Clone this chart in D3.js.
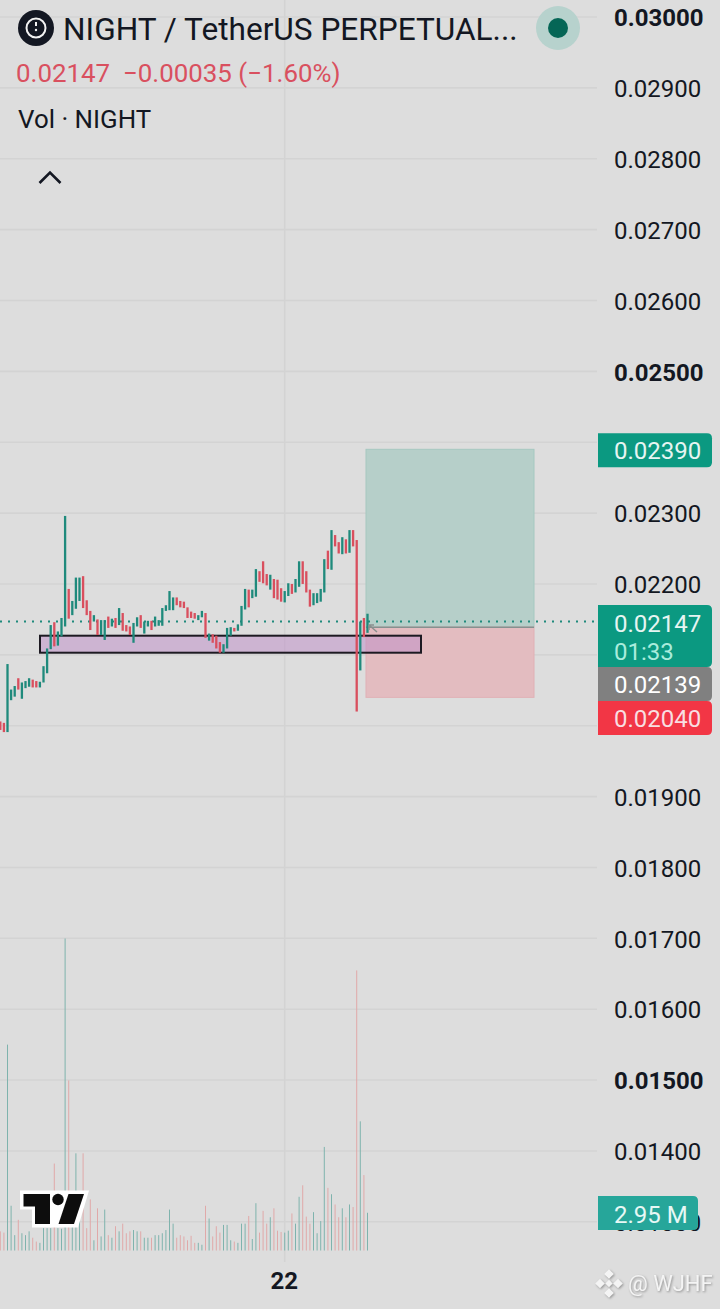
<!DOCTYPE html>
<html>
  <head>
    <meta charset="utf-8" />
    <style>
      html, body { margin: 0; padding: 0; background: #dddddd; }
      svg { display: block; }
      text { font-family: Roboto, sans-serif; }
    </style>
  </head>
  <body>

<svg id="graph"></svg>

<script src="https://d3js.org/d3.v7.min.js"></script>
<script>
  const WIDTH = 720;
  const HEIGHT = 1309;

  // candle highs and lows, in 0.00001 price units, first candle is index -2
  const HIGHS = [2006, 2004, 2087, 2051, 2056, 2067, 2061, 2063, 2067, 2065, 2063, 2062, 2084, 2109, 2142, 2146, 2133, 2152, 2296, 2193,
    2176, 2209, 2209, 2211, 2177, 2162, 2156, 2150, 2149, 2149, 2154, 2151, 2152, 2166, 2159, 2142, 2140, 2145, 2153, 2156,
    2147, 2148, 2148, 2154, 2149, 2166, 2170, 2190, 2181, 2181, 2176, 2175, 2167, 2161, 2159, 2156, 2162, 2159, 2130, 2129,
    2127, 2118, 2115, 2138, 2139, 2138, 2143, 2169, 2193, 2192, 2192, 2221, 2218, 2232, 2214, 2213, 2207, 2206, 2194, 2190,
    2201, 2200, 2207, 2232, 2232, 2218, 2192, 2187, 2187, 2193, 2235, 2247, 2276, 2269, 2259, 2266, 2263, 2276, 2276, 2262,
    2147, 2152, 2158];
  const LOWS = [1994, 1991, 1991, 2036, 2041, 2051, 2038, 2053, 2055, 2054, 2054, 2054, 2061, 2074, 2108, 2112, 2113, 2126, 2140, 2151,
    2156, 2165, 2176, 2166, 2156, 2135, 2147, 2128, 2128, 2121, 2138, 2140, 2138, 2142, 2134, 2133, 2128, 2117, 2140, 2138,
    2130, 2140, 2135, 2140, 2141, 2141, 2162, 2163, 2163, 2170, 2167, 2166, 2152, 2152, 2151, 2149, 2153, 2124, 2120, 2117,
    2109, 2103, 2103, 2109, 2127, 2133, 2134, 2141, 2164, 2167, 2180, 2182, 2203, 2201, 2198, 2192, 2180, 2178, 2175, 2174,
    2183, 2186, 2188, 2196, 2200, 2188, 2168, 2170, 2173, 2175, 2188, 2221, 2220, 2253, 2243, 2242, 2243, 2244, 2253, 2020,
    2078, 2125, 2131];
  const DIRECTIONS = 'RRGGGRGGGRRGGGGRGGGRGGGRRRGRGGRGRGRRRGGRGGRGGGGGGRRRRRRGGRGRRRGGGRGGGRGGRRRGRRRGGRGGRRRGGGGRGRRGRGRRGRG'.split('');
  // volume in millions
  const VOLUMES = [1.5, 1.4, 16.1, 3.5, 1.2, 2.4, 1.35, 1.2, 1.5, 1.0, 0.7, 0.6, 1.75, 1.75, 1.75, 6.8, 1.75, 1.7, 24.4, 13.3,
    1.9, 7.6, 2.3, 7.6, 1.75, 4.0, 0.8, 3.3, 1.1, 3.2, 1.2, 1.0, 1.9, 1.5, 2.1, 1.35, 1.5, 1.6, 1.5, 1.5,
    1.0, 1.0, 1.0, 1.2, 1.2, 1.35, 1.6, 3.2, 2.1, 1.0, 1.2, 1.1, 0.8, 1.15, 0.6, 0.6, 0.45, 3.5, 2.5, 1.1,
    1.9, 1.4, 2.0, 2.0, 0.8, 0.7, 0.6, 2.1, 2.1, 2.7, 0.9, 3.7, 1.4, 3.1, 2.1, 2.6, 3.3, 1.55, 1.45, 1.4,
    1.55, 2.9, 2.1, 4.2, 5.1, 2.65, 2.1, 3.0, 1.35, 2.3, 8.1, 4.9, 4.4, 3.6, 2.6, 3.3, 2.6, 3.6, 3.4, 21.9,
    10.1, 5.9, 2.95];

  const PRICE_TICKS = [0.03, 0.029, 0.028, 0.027, 0.026, 0.025, 0.024, 0.023, 0.022, 0.021, 0.02, 0.019, 0.018, 0.017, 0.016, 0.015, 0.014, 0.013];
  const HIDDEN_TICKS = [0.024, 0.021, 0.02]; // sit under the price tags
  const BOLD_TICKS = [0.03, 0.025, 0.015];
  const TIME_TICK = 77;

  const PROFIT = 0.0239, ENTRY = 0.02139, STOP = 0.0204, LAST = 0.02147;
  const ZONE_TOP = 0.02127, ZONE_BOTTOM = 0.02103;

  const candles = HIGHS.map((h, i) => ({
    index: i - 2, high: h / 1e5, low: LOWS[i] / 1e5, dir: DIRECTIONS[i], volume: VOLUMES[i]
  }));

  const GREEN = '#1f8a7c', RED = '#d94f5e';

  const x = d3.scaleLinear().domain([0, 100]).range([7.5, 367.5]);
  const y = d3.scaleLinear().domain([0.03, 0.013]).range([17, 1221.8]);
  const v = d3.scaleLinear().domain([0, 25]).range([1250.5, 930.8]);

  const svg = d3.select('#graph').attr('width', WIDTH).attr('height', HEIGHT);

  // grid
  svg.selectAll('.grid').data(PRICE_TICKS).enter().append('line')
    .attr('x1', 0).attr('x2', 597)
    .attr('y1', d => y(d)).attr('y2', d => y(d))
    .attr('stroke', '#d3d3d3').attr('stroke-width', 1.6);
  svg.append('line')
    .attr('x1', x(TIME_TICK)).attr('x2', x(TIME_TICK)).attr('y1', 0).attr('y2', 1262)
    .attr('stroke', '#d3d3d3').attr('stroke-width', 1.6);

  // volume
  svg.selectAll('.vol').data(candles).enter().append('rect')
    .attr('x', d => x(d.index) - 0.5).attr('width', 1)
    .attr('y', d => v(d.volume)).attr('height', d => v(0) - v(d.volume))
    .attr('fill', d => d.dir === 'G' ? '#7fb3ad' : '#e0a9a9');

  // long position box
  const boxX = 366, boxW = 168;
  svg.append('rect').attr('x', boxX).attr('width', boxW)
    .attr('y', y(PROFIT)).attr('height', y(ENTRY) - y(PROFIT))
    .attr('fill', '#b6cfc9').attr('stroke', '#a5c8c0');
  svg.append('rect').attr('x', boxX).attr('width', boxW)
    .attr('y', y(ENTRY)).attr('height', y(STOP) - y(ENTRY))
    .attr('fill', '#e3bcc0').attr('stroke', '#e0b0b5');

  // zone
  svg.append('rect').attr('x', 40).attr('width', 381)
    .attr('y', y(ZONE_TOP)).attr('height', y(ZONE_BOTTOM) - y(ZONE_TOP))
    .attr('fill', '#bd8bc7').attr('fill-opacity', 0.5)
    .attr('stroke', '#1d1a22').attr('stroke-width', 2);

  // last price dotted line
  svg.append('line').attr('x1', 0).attr('x2', 597)
    .attr('y1', y(LAST)).attr('y2', y(LAST))
    .attr('stroke', GREEN).attr('stroke-width', 2)
    .attr('stroke-dasharray', '2 6');

  // entry line over the box
  svg.append('line').attr('x1', boxX).attr('x2', boxX + boxW)
    .attr('y1', y(ENTRY)).attr('y2', y(ENTRY))
    .attr('stroke', '#85918f').attr('stroke-width', 1.6);

  // candles
  svg.selectAll('.candle').data(candles).enter().append('rect')
    .attr('x', d => x(d.index) - 1.15).attr('width', 2.3)
    .attr('y', d => y(d.high)).attr('height', d => y(d.low) - y(d.high))
    .attr('fill', d => d.dir === 'G' ? GREEN : RED);

  // small cursor arrow next to the last candle
  svg.append('path').attr('d', 'M377 632L369 625M369 625L374 625M369 625L369 630')
    .attr('stroke', '#8a8f8e').attr('stroke-width', 1.5).attr('fill', 'none');

  // price axis
  const axis = d3.axisRight(y)
    .tickValues(PRICE_TICKS.filter(d => !HIDDEN_TICKS.includes(d)))
    .tickFormat(d3.format('.5f'))
    .tickSize(0).tickPadding(0);
  const axisG = svg.append('g').attr('transform', 'translate(614,1)').call(axis);
  axisG.select('.domain').remove();
  axisG.selectAll('text')
    .style('font-family', 'Roboto, sans-serif')
    .style('font-size', '24px')
    .style('font-weight', d => BOLD_TICKS.includes(d) ? 700 : 400)
    .attr('fill', '#131722');

  // time axis
  const timeAxis = d3.axisBottom(x).tickValues([TIME_TICK]).tickFormat(() => '22').tickSize(0).tickPadding(0);
  const timeG = svg.append('g').attr('transform', 'translate(-1,1272)').call(timeAxis);
  timeG.select('.domain').remove();
  timeG.selectAll('text')
    .style('font-family', 'Roboto, sans-serif')
    .style('font-size', '24px').style('font-weight', 700).attr('fill', '#131722');

  // price tags
  function tag(yTop, h, w, fill) {
    const r = 5, x0 = 598;
    svg.append('path')
      .attr('d', `M${x0} ${yTop}H${x0 + w - r}Q${x0 + w} ${yTop} ${x0 + w} ${yTop + r}V${yTop + h - r}Q${x0 + w} ${yTop + h} ${x0 + w - r} ${yTop + h}H${x0}Z`)
      .attr('fill', fill);
  }
  function tagText(label, yPos, color) {
    svg.append('text').attr('x', 614).attr('y', yPos).attr('dy', '0.36em')
      .attr('font-size', 24).attr('fill', color).text(label);
  }
  const fmt = d3.format('.5f');
  tag(y(PROFIT) - 16, 34, 114, '#0b9981');
  tagText(fmt(PROFIT), y(PROFIT) + 1, '#e6f5f2');
  tag(605, 62, 114, '#0b9981');
  tagText(fmt(LAST), 623, '#e6f5f2');
  tagText('01:33', 651, '#a9ecdc');
  tag(667, 34, 114, '#808080');
  tagText(fmt(ENTRY), 684, '#ffffff');
  tag(701, 34, 114, '#f23645');
  tagText(fmt(STOP), 718, '#f8dfe1');
  tag(1196, 34, 100, '#26a69a');
  tagText('2.95 M', 1214, '#e6f8f5');

  // header
  svg.append('circle').attr('cx', 36).attr('cy', 28).attr('r', 18).attr('fill', '#131722');
  svg.append('circle').attr('cx', 36).attr('cy', 28).attr('r', 9.5)
    .attr('fill', 'none').attr('stroke', '#f2f2f2').attr('stroke-width', 2);
  svg.append('rect').attr('x', 35).attr('y', 22).attr('width', 2).attr('height', 4).attr('fill', '#f2f2f2');
  svg.append('circle').attr('cx', 36).attr('cy', 30).attr('r', 1.2).attr('fill', '#f2f2f2');
  svg.append('text').attr('x', 63).attr('y', 40).attr('font-size', 31.6).attr('fill', '#131722')
    .text('NIGHT / TetherUS PERPETUAL...');
  svg.append('circle').attr('cx', 558).attr('cy', 28).attr('r', 22).attr('fill', '#b7d2cd');
  svg.append('circle').attr('cx', 558).attr('cy', 28).attr('r', 10).attr('fill', '#056656');
  svg.append('text').attr('x', 16).attr('y', 82).attr('font-size', 25.9).attr('fill', '#d9505f')
    .attr('xml:space', 'preserve').style('white-space', 'pre').text('0.02147  \u22120.00035 (\u22121.60%)');
  svg.append('text').attr('x', 18).attr('y', 128).attr('font-size', 25.9).attr('fill', '#131722')
    .text('Vol \u00b7 NIGHT');
  svg.append('path').attr('d', 'M39.5 183L50 172.5L60.5 183')
    .attr('fill', 'none').attr('stroke', '#131722').attr('stroke-width', 2.6);

  // tradingview logo
  const logo = svg.append('g').attr('transform', 'translate(20,1190.5)');
  logo.append('path').attr('d', 'M0 0H69L58 37H12V19H0Z').attr('fill', '#ffffff');
  logo.append('path').attr('d', 'M3.5 3.5H30V33.5H15V16H3.5Z').attr('fill', '#0d0d0d');
  logo.append('circle').attr('cx', 38).attr('cy', 9).attr('r', 5.7).attr('fill', '#0d0d0d');
  logo.append('path').attr('d', 'M48.5 3.5H64L54 33.5H38.5Z').attr('fill', '#0d0d0d');

  // watermark
  const mark = svg.append('g').style('filter', 'drop-shadow(1px 1.5px 1px rgba(90,90,90,0.55))');
  [[609, 1274], [600, 1283.5], [618, 1283.5], [609, 1293]].forEach(p => {
    mark.append('rect').attr('x', -3.4).attr('y', -3.4).attr('width', 6.8).attr('height', 6.8)
      .attr('transform', `translate(${p[0]},${p[1]}) rotate(45)`).attr('fill', '#f4f4f4');
  });
  mark.append('rect').attr('x', -2.6).attr('y', -2.6).attr('width', 5.2).attr('height', 5.2)
    .attr('transform', 'translate(609,1283.5) rotate(45)').attr('fill', '#f4f4f4');
  mark.append('text').attr('x', 628).attr('y', 1291).attr('font-size', 22).attr('fill', '#f4f4f4')
    .text('@ WJHF');
</script>
  </body>
</html>
